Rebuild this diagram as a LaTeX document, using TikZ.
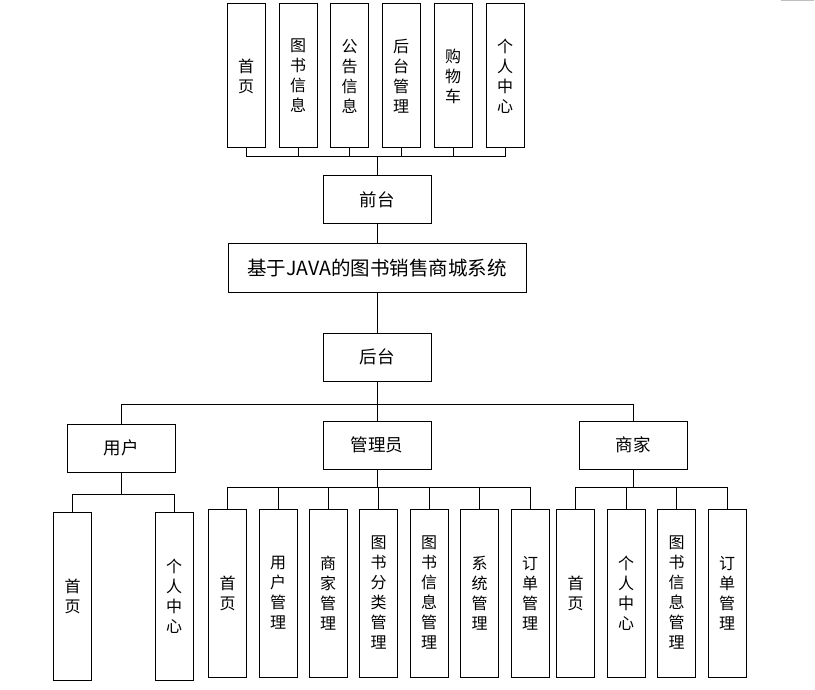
\documentclass[tikz,border=0pt]{standalone}
\usepackage{fontspec}
\setmainfont{Noto Sans CJK SC}

\begin{document}
\begin{tikzpicture}[x=1pt,y=-1pt,line width=1pt,
    box/.style={draw,minimum width=108pt,minimum height=48pt,inner sep=0pt,font=\fontsize{17.5}{20}\selectfont},
    vbox/.style={draw,minimum width=38pt,inner sep=0pt,align=center,font=\fontsize{16}{20}\selectfont},
    vtop/.style={vbox,minimum height=144pt},
    vlow/.style={vbox,minimum height=168pt}]

    \useasboundingbox (0,0) rectangle (815,690);

    % front end
    \node[vtop] (q1) at (246, 76)   {首\\页};
    \node[vtop] (q2) at (298, 76)   {图\\书\\信\\息};
    \node[vtop] (q3) at (349.5, 76) {公\\告\\信\\息};
    \node[vtop] (q4) at (401, 76)   {后\\台\\管\\理};
    \node[vtop] (q5) at (453, 76)   {购\\物\\车};
    \node[vtop] (q6) at (505, 76)   {个\\人\\中\\心};
    \node[box] (qt) at (377, 200) {前台};
    \node[box,minimum width=298pt,font=\fontsize{19.5}{20}\selectfont] (sys) at (377, 268) {基于JAVA的图书销售商城系统};

    % back end
    \node[box] (ht)  at (377, 357) {后台};
    \node[box] (yh)  at (121, 448) {用户};
    \node[box] (gly) at (377, 445) {管理员};
    \node[box] (sj)  at (633, 445) {商家};

    \node[vlow] (y1) at (72.5, 596) {首\\页};
    \node[vlow] (y2) at (174, 596)  {个\\人\\中\\心};

    \node[vlow] (g1) at (227.5, 593) {首\\页};
    \node[vlow] (g2) at (278, 593)   {用\\户\\管\\理};
    \node[vlow] (g3) at (328, 593)   {商\\家\\管\\理};
    \node[vlow] (g4) at (378.5, 593) {图\\书\\分\\类\\管\\理};
    \node[vlow] (g5) at (429, 593)   {图\\书\\信\\息\\管\\理};
    \node[vlow] (g6) at (479.5, 593) {系\\统\\管\\理};
    \node[vlow] (g7) at (530, 593)   {订\\单\\管\\理};

    \node[vlow] (s1) at (575.5, 593) {首\\页};
    \node[vlow] (s2) at (626, 593)   {个\\人\\中\\心};
    \node[vlow] (s3) at (676.5, 593) {图\\书\\信\\息\\管\\理};
    \node[vlow] (s4) at (727, 593)   {订\\单\\管\\理};

    \coordinate (qbus) at (377, 157);
    \coordinate (hbus) at (377, 404);
    \coordinate (ybus) at (121, 494);
    \coordinate (gbus) at (377, 487);
    \coordinate (sbus) at (633, 487);

    \draw (qt) -- (qbus);
    \draw (qbus) -| (q1);
    \draw (qbus) -| (q2);
    \draw (qbus) -| (q3);
    \draw (qbus) -| (q4);
    \draw (qbus) -| (q5);
    \draw (qbus) -| (q6);
    \draw (qt) -- (sys);
    \draw (sys) -- (ht);

    \draw (ht) -- (hbus);
    \draw (hbus) -| (yh);
    \draw (hbus) -- (gly);
    \draw (hbus) -| (sj);

    \draw (yh) -- (ybus);
    \draw (ybus) -| (y1);
    \draw (ybus) -| (y2);

    \draw (gly) -- (gbus);
    \draw (gbus) -| (g1);
    \draw (gbus) -| (g2);
    \draw (gbus) -| (g3);
    \draw (gbus) -| (g4);
    \draw (gbus) -| (g5);
    \draw (gbus) -| (g6);
    \draw (gbus) -| (g7);

    \draw (sj) -- (sbus);
    \draw (sbus) -| (s1);
    \draw (sbus) -| (s2);
    \draw (sbus) -| (s3);
    \draw (sbus) -| (s4);

    \draw[gray!50] (781, 0.5) -- (814, 0.5);
\end{tikzpicture}
\end{document}
